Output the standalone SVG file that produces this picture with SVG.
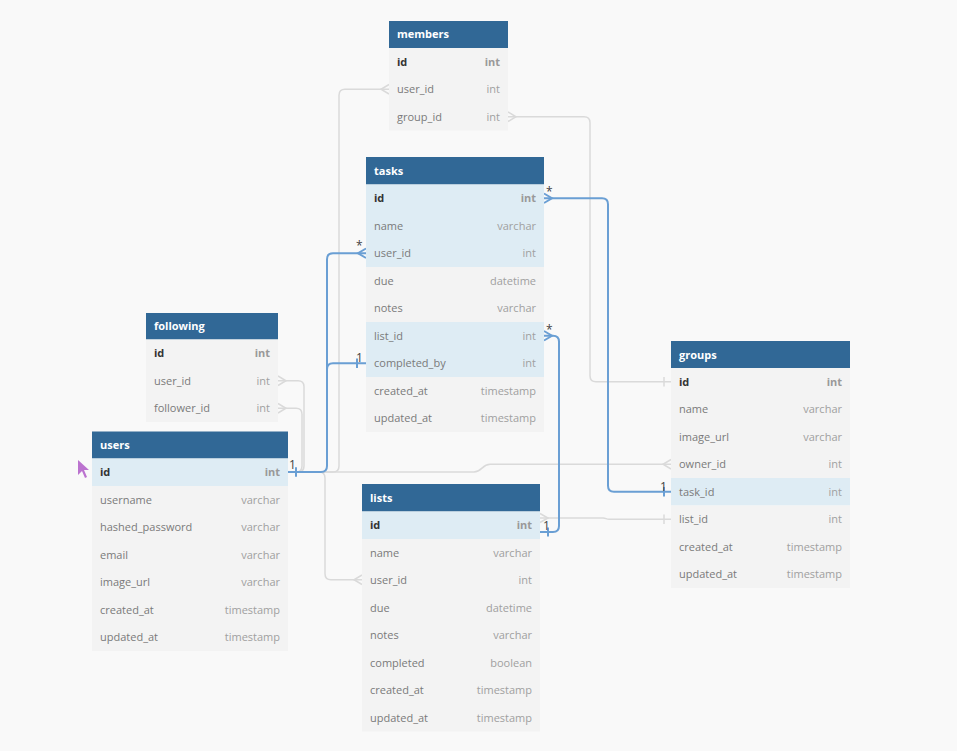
<svg xmlns="http://www.w3.org/2000/svg" width="957" height="751" viewBox="0 0 957 751">
<style>
.bg{fill:#f9f9f9}
.hd{fill:#316896}
.row{fill:#f3f3f3}
.hl{fill:#deecf4}
.title{font-family:"Open Sans","Liberation Sans",sans-serif;font-size:11px;font-weight:bold;fill:#ffffff}
.f{font-family:"Open Sans","Liberation Sans",sans-serif;font-size:11px;fill:#7a7a7a}
.pk{font-family:"Open Sans","Liberation Sans",sans-serif;font-size:11px;font-weight:bold;fill:#333333}
.t{font-family:"Open Sans","Liberation Sans",sans-serif;font-size:11px;fill:#a0a0a0;text-anchor:end}
.tpk{font-family:"Open Sans","Liberation Sans",sans-serif;font-size:11px;font-weight:bold;fill:#999999;text-anchor:end}
.g{fill:none;stroke:#dadada;stroke-width:1.5}
.b{fill:none;stroke:#6a9fd4;stroke-width:2}
.lbl{font-family:"Open Sans","Liberation Sans",sans-serif;font-size:12px;fill:#444444}
</style>
<rect class="bg" x="0" y="0" width="957" height="751"/>

<g id="connectors">
  <!-- gray relations -->
  <path class="g" d="M278,380.75 H298 Q304,380.75 304,386.75 V466 Q304,472 298,472 H288"/>
  <path class="g" d="M278,376 L286,380.75 L278,385.5"/>
  <path class="g" d="M278,408.25 H296 Q302,408.25 302,414.25 V466 Q302,472 296,472 H288"/>
  <path class="g" d="M278,403.5 L286,408.25 L278,413"/>
  <path class="g" d="M389,89.25 H345 Q339,89.25 339,95.25 V466 Q339,472 333,472 H288"/>
  <path class="g" d="M389,84.5 L381,89.25 L389,94"/>
  <path class="g" d="M671,464.25 H490 C482,464.25 482,472 474,472 H288"/>
  <path class="g" d="M671,459.5 L663,464.25 L671,469"/>
  <path class="g" d="M362,579.75 H331 Q325,579.75 325,573.75 V478 Q325,472 319,472 H288"/>
  <path class="g" d="M362,575 L354,579.75 L362,584.5"/>
  <path class="g" d="M508,116.75 H584 Q590,116.75 590,122.75 V375.75 Q590,381.75 596,381.75 H671"/>
  <path class="g" d="M508,112 L516,116.75 L508,121.5"/>
  <path class="g" d="M664,377 V386.5"/>
  <path class="g" d="M540,518 H603 C606,518 606,519.25 609,519.25 H671"/>
  <path class="g" d="M540,513.5 L548,518 L540,522.5"/>
  <path class="g" d="M664,514.5 V524"/>
  <!-- blue relations -->
  <path class="b" d="M288,472 H321 Q327,472 327,466 V259.25 Q327,253.25 333,253.25 H366"/>
  <path class="b" d="M366,248.5 L358,253.25 L366,258"/>
  <path class="b" d="M327,369.25 Q327,363.25 333,363.25 H366"/>
  <path class="b" d="M357,358.5 V368"/>
  <path class="b" d="M296,467.25 V476.75"/>
  <path class="b" d="M544,198.25 H602 Q608,198.25 608,204.25 V485.75 Q608,491.75 614,491.75 H671"/>
  <path class="b" d="M544,193.5 L552,198.25 L544,203"/>
  <path class="b" d="M664,487 V496.5"/>
  <path class="b" d="M544,335.75 H553 Q559,335.75 559,341.75 V526 Q559,532 553,532 H540"/>
  <path class="b" d="M544,331 L552,335.75 L544,340.5"/>
  <path class="b" d="M548,527.5 V536.5"/>
  <text class="lbl" x="289" y="469">1</text>
  <text class="lbl" x="356" y="250">*</text>
  <text class="lbl" x="356" y="362">1</text>
  <text class="lbl" x="546" y="196">*</text>
  <text class="lbl" x="546" y="334">*</text>
  <text class="lbl" x="660" y="491">1</text>
  <text class="lbl" x="543" y="530">1</text>
</g>

<g id="members">
  <rect class="hd" x="389" y="21" width="119" height="27"/>
  <text class="title" x="397" y="38">members</text>
  <rect class="row" x="389" y="48" width="119" height="82.5"/>
  <text class="pk" x="397" y="65.5">id</text><text class="tpk" x="500" y="65.5">int</text>
  <text class="f" x="397" y="93">user_id</text><text class="t" x="500" y="93">int</text>
  <text class="f" x="397" y="120.5">group_id</text><text class="t" x="500" y="120.5">int</text>
</g>

<g id="tasks">
  <rect class="hd" x="366" y="157" width="178" height="27.5"/>
  <text class="title" x="374" y="175">tasks</text>
  <rect class="hl" x="366" y="184.5" width="178" height="82.5"/>
  <rect class="row" x="366" y="267" width="178" height="55"/>
  <rect class="hl" x="366" y="322" width="178" height="55"/>
  <rect class="row" x="366" y="377" width="178" height="55"/>
  <text class="pk" x="374" y="202">id</text><text class="tpk" x="536" y="202">int</text>
  <text class="f" x="374" y="229.5">name</text><text class="t" x="536" y="229.5">varchar</text>
  <text class="f" x="374" y="257">user_id</text><text class="t" x="536" y="257">int</text>
  <text class="f" x="374" y="284.5">due</text><text class="t" x="536" y="284.5">datetime</text>
  <text class="f" x="374" y="312">notes</text><text class="t" x="536" y="312">varchar</text>
  <text class="f" x="374" y="339.5">list_id</text><text class="t" x="536" y="339.5">int</text>
  <text class="f" x="374" y="367">completed_by</text><text class="t" x="536" y="367">int</text>
  <text class="f" x="374" y="394.5">created_at</text><text class="t" x="536" y="394.5">timestamp</text>
  <text class="f" x="374" y="422">updated_at</text><text class="t" x="536" y="422">timestamp</text>
</g>

<g id="following">
  <rect class="hd" x="146" y="313" width="132" height="26.5"/>
  <text class="title" x="154" y="330">following</text>
  <rect class="row" x="146" y="339.5" width="132" height="82.5"/>
  <text class="pk" x="154" y="357">id</text><text class="tpk" x="270" y="357">int</text>
  <text class="f" x="154" y="384.5">user_id</text><text class="t" x="270" y="384.5">int</text>
  <text class="f" x="154" y="412">follower_id</text><text class="t" x="270" y="412">int</text>
</g>

<g id="users">
  <rect class="hd" x="92" y="431.5" width="196" height="27"/>
  <text class="title" x="100" y="449">users</text>
  <rect class="hl" x="92" y="458.5" width="196" height="27.5"/>
  <rect class="row" x="92" y="486" width="196" height="165"/>
  <text class="pk" x="100" y="476">id</text><text class="tpk" x="280" y="476">int</text>
  <text class="f" x="100" y="503.5">username</text><text class="t" x="280" y="503.5">varchar</text>
  <text class="f" x="100" y="531">hashed_password</text><text class="t" x="280" y="531">varchar</text>
  <text class="f" x="100" y="558.5">email</text><text class="t" x="280" y="558.5">varchar</text>
  <text class="f" x="100" y="586">image_url</text><text class="t" x="280" y="586">varchar</text>
  <text class="f" x="100" y="613.5">created_at</text><text class="t" x="280" y="613.5">timestamp</text>
  <text class="f" x="100" y="641">updated_at</text><text class="t" x="280" y="641">timestamp</text>
</g>

<g id="lists">
  <rect class="hd" x="362" y="484" width="178" height="27.5"/>
  <text class="title" x="370" y="502">lists</text>
  <rect class="hl" x="362" y="511.5" width="178" height="27.5"/>
  <rect class="row" x="362" y="539" width="178" height="192.5"/>
  <text class="pk" x="370" y="529">id</text><text class="tpk" x="532" y="529">int</text>
  <text class="f" x="370" y="556.5">name</text><text class="t" x="532" y="556.5">varchar</text>
  <text class="f" x="370" y="584">user_id</text><text class="t" x="532" y="584">int</text>
  <text class="f" x="370" y="611.5">due</text><text class="t" x="532" y="611.5">datetime</text>
  <text class="f" x="370" y="639">notes</text><text class="t" x="532" y="639">varchar</text>
  <text class="f" x="370" y="666.5">completed</text><text class="t" x="532" y="666.5">boolean</text>
  <text class="f" x="370" y="694">created_at</text><text class="t" x="532" y="694">timestamp</text>
  <text class="f" x="370" y="721.5">updated_at</text><text class="t" x="532" y="721.5">timestamp</text>
</g>

<g id="groups">
  <rect class="hd" x="671" y="341" width="179" height="27"/>
  <text class="title" x="679" y="359">groups</text>
  <rect class="row" x="671" y="368" width="179" height="110"/>
  <rect class="hl" x="671" y="478" width="179" height="27.5"/>
  <rect class="row" x="671" y="505.5" width="179" height="82.5"/>
  <text class="pk" x="679" y="385.5">id</text><text class="tpk" x="842" y="385.5">int</text>
  <text class="f" x="679" y="413">name</text><text class="t" x="842" y="413">varchar</text>
  <text class="f" x="679" y="440.5">image_url</text><text class="t" x="842" y="440.5">varchar</text>
  <text class="f" x="679" y="468">owner_id</text><text class="t" x="842" y="468">int</text>
  <text class="f" x="679" y="495.5">task_id</text><text class="t" x="842" y="495.5">int</text>
  <text class="f" x="679" y="523">list_id</text><text class="t" x="842" y="523">int</text>
  <text class="f" x="679" y="550.5">created_at</text><text class="t" x="842" y="550.5">timestamp</text>
  <text class="f" x="679" y="578">updated_at</text><text class="t" x="842" y="578">timestamp</text>
</g>

<path d="M78,460 L78,475 L82,471 L85,478 L87,477 L84,470 L89,470 Z" fill="#b05cc8" opacity="0.85"/>
</svg>
